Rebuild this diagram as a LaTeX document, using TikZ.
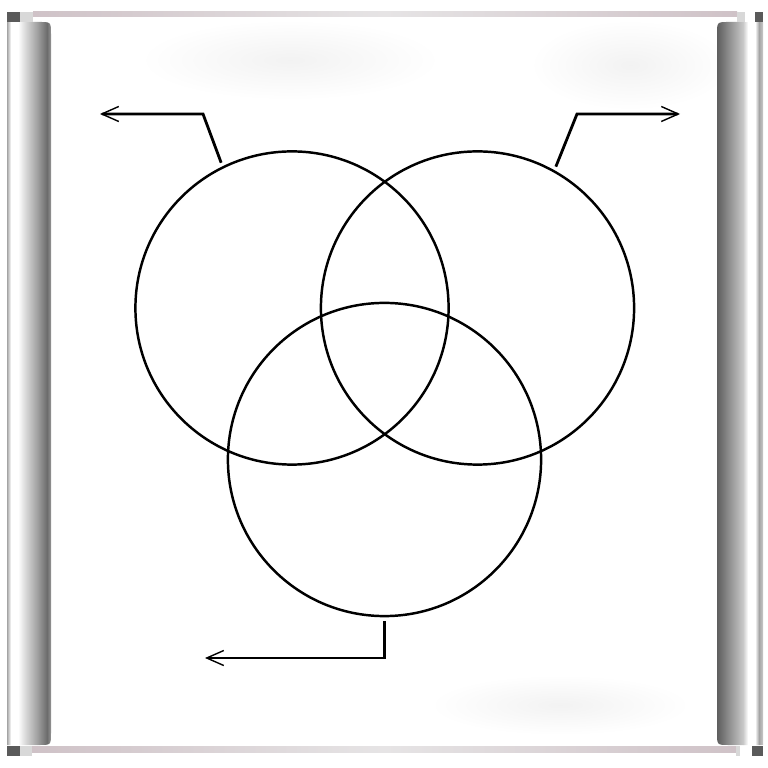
\documentclass[tikz,border=0pt]{standalone}
\usetikzlibrary{arrows.meta}

\definecolor{rlA}{HTML}{A4A4A4}
\definecolor{rlB}{HTML}{D6D6D6}
\definecolor{rlC}{HTML}{A2A2A2}
\definecolor{rlD}{HTML}{6C6C6C}
\definecolor{rlE}{HTML}{959595}
\definecolor{rrA}{HTML}{5E5E5E}
\definecolor{rrB}{HTML}{979797}
\definecolor{rrC}{HTML}{C8C8C8}
\definecolor{rrD}{HTML}{A4A4A4}
\definecolor{capdark}{HTML}{5A5A5A}
\definecolor{caplight}{HTML}{D8D8D8}
\definecolor{hemend}{HTML}{CFC2C7}
\definecolor{hemmid}{HTML}{E6E4E5}

\tikzset{
  ring/.style={circle, draw, line width=0.7pt, minimum size=3.13cm,
    inner sep=0pt, outer sep=0.05cm},
  pointer/.style={line width=0.8pt,
    -{Straight Barb[length=1.7mm,width=1.5mm,line width=0.4pt]}},
  fold/.style={inner color=black!5, outer color=white}
}

\begin{document}
\begin{tikzpicture}[x=0.01cm, y=-0.01cm]
  \useasboundingbox (0,0) rectangle (768,768);

  % soft folds of the banner
  \shade[fold] (290,60) ellipse (150 and 40);
  \shade[fold] (630,65) ellipse (100 and 45);
  \shade[fold] (560,705) ellipse (130 and 30);

  % hems, top and bottom
  \shade[left color=hemend, right color=hemmid] (33,12) rectangle (385,17);
  \shade[left color=hemmid, right color=hemend] (385,12) rectangle (737,17);
  \shade[left color=hemend, right color=hemmid] (32,746) rectangle (385,752);
  \shade[left color=hemmid, right color=hemend] (385,746) rectangle (736,752);

  % left roller
  \begin{scope}
    \clip (7,22) -- (39,22) .. controls (51,22) .. (51,34) -- (51,733)
      .. controls (51,745) .. (39,745) -- (7,745) -- cycle;
    \shade[left color=rlA, right color=white] (7,10) rectangle (11,760);
    \fill[white] (11,10) rectangle (18,760);
    \shade[left color=white, right color=rlB] (18,10) rectangle (26,760);
    \shade[left color=rlB, right color=rlC] (26,10) rectangle (37,760);
    \shade[left color=rlC, right color=rlD] (37,10) rectangle (47,760);
    \shade[left color=rlD, right color=rlE] (47,10) rectangle (51,760);
  \end{scope}
  \fill[capdark] (7,12) rectangle (20,22);
  \fill[caplight] (20,12) rectangle (33,22);
  \fill[capdark] (7,746) rectangle (20,756);
  \fill[caplight] (20,746) rectangle (32,756);

  % right roller
  \begin{scope}
    \clip (763,22) -- (729,22) .. controls (717,22) .. (717,34) -- (717,733)
      .. controls (717,745) .. (729,745) -- (763,745) -- cycle;
    \shade[left color=rrA, right color=rrB] (717,10) rectangle (731,760);
    \shade[left color=rrB, right color=rrC] (731,10) rectangle (743,760);
    \shade[left color=rrC, right color=white] (743,10) rectangle (748,760);
    \fill[white] (748,10) rectangle (755,760);
    \shade[left color=white, right color=rrD] (755,10) rectangle (759,760);
    \shade[left color=rrD, right color=rrC] (759,10) rectangle (763,760);
  \end{scope}
  \fill[caplight] (737,12) rectangle (745,22);
  \fill[white] (745,12) rectangle (755,22);
  \fill[capdark] (755,12) rectangle (763,22);
  \fill[caplight] (736,746) rectangle (740,756);
  \fill[white] (740,746) rectangle (752,756);
  \fill[capdark] (752,746) rectangle (763,756);

  % the three sets
  \node[ring] (setA) at (292,308) {};
  \node[ring] (setB) at (477.5,308) {};
  \node[ring] (setC) at (384.5,459.5) {};

  \coordinate (kneeA) at (203,114);
  \coordinate (tipA) at (100,114);
  \coordinate (kneeB) at (577,114);
  \coordinate (tipB) at (680,114);
  \coordinate (kneeC) at (setC.south |- 0,658);
  \coordinate (tipC) at (205,658);

  \draw[pointer] (setA.116) -- (kneeA) -- (tipA);
  \draw[pointer] (setB.61) -- (kneeB) -- (tipB);
  \draw[pointer] (setC.south) -- (kneeC) -- (tipC);
\end{tikzpicture}
\end{document}
